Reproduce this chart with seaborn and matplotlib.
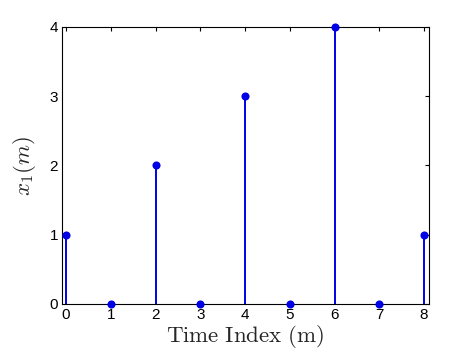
import numpy as np
import pandas as pd
import matplotlib
matplotlib.use("Agg")
import matplotlib.pyplot as plt
import seaborn as sns

# sequence values x1(m)
m_index = [0, 1, 2, 3, 4, 5, 6, 7, 8]
x1_values = [1, 0, 2, 0, 3, 0, 4, 0, 1]
y_ticks = [0, 1, 2, 3, 4]

data = pd.DataFrame({"m": m_index, "x1": x1_values})

sns.set_style("white")
plt.rcParams["font.family"] = ["Liberation Sans", "DejaVu Sans"]
plt.rcParams["mathtext.fontset"] = "cm"

blue = "#0000e6"

fig = plt.figure(figsize=(4.74, 3.55), dpi=100)
ax = fig.add_axes([0.131, 0.144, 0.774, 0.780])

# stems
ax.vlines(data["m"], 0, data["x1"], color=blue, linewidth=1.4, zorder=2)
# markers
sns.scatterplot(data=data, x="m", y="x1", ax=ax, color=blue, s=34,
                edgecolor=blue, linewidth=0, zorder=3, clip_on=False)

ax.set_xlim(-0.09, 8.11)
ax.set_ylim(0, 4)
ax.set_xticks(m_index)
ax.set_yticks(y_ticks)
ax.tick_params(direction="in", length=3, width=0.8, top=True, right=True,
               labelsize=11, colors="black", pad=3)
for sp in ax.spines.values():
    sp.set_visible(True)
    sp.set_color("black")
    sp.set_linewidth(0.8)

ax.set_xlabel(r"$\mathrm{Time\ Index\ (m)}$", fontsize=16.5, labelpad=1)
ax.set_ylabel(r"$x_1(m)$", fontsize=16.5, labelpad=8)

fig.savefig("out.png", dpi=100)
